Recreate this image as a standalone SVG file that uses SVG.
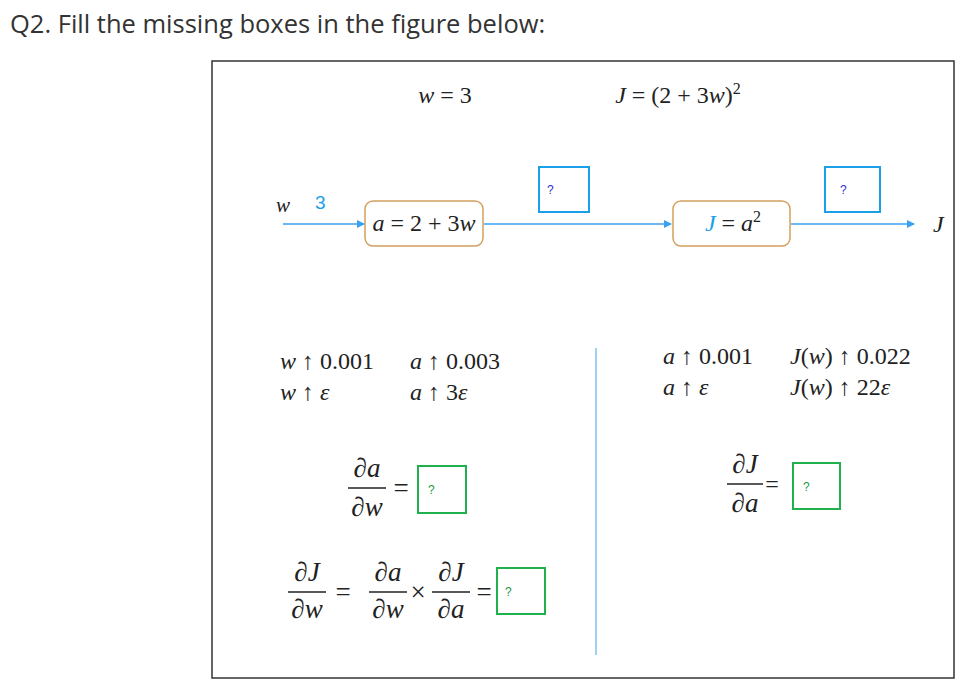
<svg xmlns="http://www.w3.org/2000/svg" width="970" height="694" viewBox="0 0 970 694">
<style>
.m{font-family:"Liberation Serif","DejaVu Serif",serif;font-size:24px;fill:#222}
.f{font-size:27px}
.i{font-style:italic}
.c{text-anchor:middle}
.q{font-family:"Liberation Sans",sans-serif;font-size:12px}
.node{fill:#fff;stroke:#d4a060;stroke-width:1.5}
.bb{fill:#fff;stroke:#1aa0e6;stroke-width:2}
.gb{fill:#fff;stroke:#1fb14c;stroke-width:2}
.ln{stroke:#3aa0f0;stroke-width:1.3;fill:none}
.bar{stroke:#222;stroke-width:1.6}
</style>
<defs><marker id="ar" markerWidth="8" markerHeight="8" refX="7" refY="4" orient="auto" markerUnits="userSpaceOnUse"><path d="M0,0 L8,4 L0,8 z" fill="#3aa0f0"/></marker></defs>
<rect width="970" height="694" fill="#fff"/>
<text x="10" y="33" font-family="Open Sans,Liberation Sans,sans-serif" font-size="25.5" fill="#333">Q2. Fill the missing boxes in the figure below:</text>
<rect x="212" y="61" width="742" height="617" fill="none" stroke="#333" stroke-width="1.5"/>
<text x="445" y="103" class="m c"><tspan class="i">w</tspan> = 3</text>
<text x="678" y="103" class="m c"><tspan class="i">J</tspan> = (2 + 3<tspan class="i">w</tspan>)<tspan dy="-9" style="font-size:16px">2</tspan></text>
<g id="connectors">
<line x1="283" y1="224" x2="364" y2="224" class="ln" marker-end="url(#ar)"/>
<line x1="484" y1="224" x2="671" y2="224" class="ln" marker-end="url(#ar)"/>
<line x1="791" y1="224" x2="914" y2="224" class="ln" marker-end="url(#ar)"/>
<line x1="596" y1="348" x2="596" y2="655" stroke="#7ec0f0" stroke-width="1.5"/>
</g>
<text x="276" y="212" class="m i" style="font-size:21px">w</text>
<text x="315" y="209" font-family="Liberation Sans,sans-serif" font-size="19" fill="#1aa0e6">3</text>
<g id="nodeA"><rect x="365" y="201" width="118" height="45" rx="8" class="node"/><text x="424" y="231" class="m c"><tspan class="i">a</tspan> = 2 + 3<tspan class="i">w</tspan></text></g>
<g id="nodeJ"><rect x="673" y="201" width="117" height="45" rx="8" class="node"/><text x="733" y="231" class="m c"><tspan class="i" fill="#1aa0e6">J</tspan> = <tspan class="i">a</tspan><tspan dy="-9" style="font-size:16px">2</tspan></text></g>
<text x="933" y="232" class="m i">J</text>
<g id="q1"><rect x="539" y="167" width="50" height="45" class="bb"/><text x="547" y="194" class="q" fill="#3030d0">?</text></g>
<g id="q2"><rect x="825" y="167" width="55" height="45" class="bb"/><text x="840" y="194" class="q" fill="#3030d0">?</text></g>
<text x="280" y="369" class="m"><tspan class="i">w</tspan> ↑ 0.001</text>
<text x="410" y="369" class="m"><tspan class="i">a</tspan> ↑ 0.003</text>
<text x="280" y="400" class="m"><tspan class="i">w</tspan> ↑ <tspan class="i">ε</tspan></text>
<text x="410" y="400" class="m"><tspan class="i">a</tspan> ↑ 3<tspan class="i">ε</tspan></text>
<text x="663" y="364" class="m"><tspan class="i">a</tspan> ↑ 0.001</text>
<text x="790" y="364" class="m"><tspan class="i">J</tspan>(<tspan class="i">w</tspan>) ↑ 0.022</text>
<text x="663" y="395" class="m"><tspan class="i">a</tspan> ↑ <tspan class="i">ε</tspan></text>
<text x="790" y="395" class="m"><tspan class="i">J</tspan>(<tspan class="i">w</tspan>) ↑ 22<tspan class="i">ε</tspan></text>
<text x="367" y="477" class="m f c i">∂a</text><line x1="348" y1="488" x2="386" y2="488" class="bar"/><text x="367" y="516" class="m f c i">∂w</text>
<text x="401" y="497" class="m f c">=</text>
<g id="g1"><rect x="418" y="466" width="48" height="47" class="gb"/><text x="428" y="494" class="q" fill="#1f9a40">?</text></g>
<text x="745" y="473" class="m f c i">∂J</text><line x1="727" y1="484" x2="763" y2="484" class="bar"/><text x="745" y="512" class="m f c i">∂a</text>
<text x="772" y="492" class="m c">=</text>
<g id="g2"><rect x="793" y="463" width="47" height="46" class="gb"/><text x="803" y="491" class="q" fill="#1f9a40">?</text></g>
<text x="307" y="581" class="m f c i">∂J</text><line x1="288" y1="592" x2="326" y2="592" class="bar"/><text x="307" y="618" class="m f c i">∂w</text>
<text x="343" y="601" class="m f c">=</text>
<text x="388" y="581" class="m f c i">∂a</text><line x1="369" y1="592" x2="407" y2="592" class="bar"/><text x="388" y="618" class="m f c i">∂w</text>
<text x="418" y="601" class="m f c">×</text>
<text x="451" y="581" class="m f c i">∂J</text><line x1="432" y1="592" x2="470" y2="592" class="bar"/><text x="451" y="618" class="m f c i">∂a</text>
<text x="484" y="601" class="m f c">=</text>
<g id="g3"><rect x="497" y="568" width="48" height="46" class="gb"/><text x="505" y="596" class="q" fill="#1f9a40">?</text></g>
</svg>
